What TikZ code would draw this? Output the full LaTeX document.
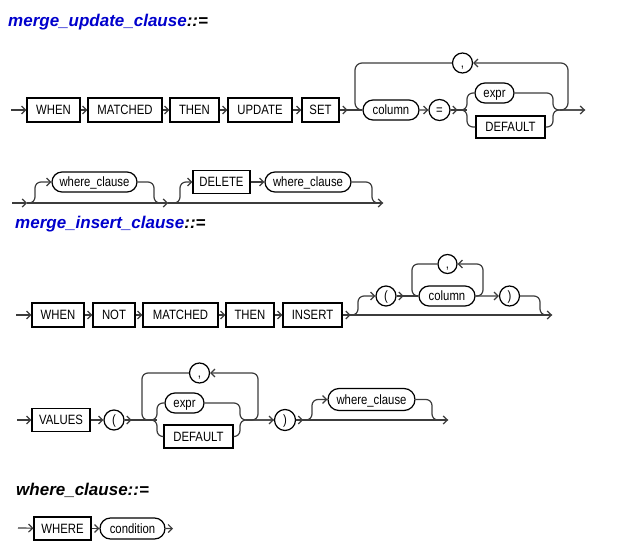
\documentclass[tikz,border=0pt]{standalone}
\usepackage{fontspec}
\setmainfont{Liberation Sans}
\newfontfamily\boxfont{Liberation Sans}[FakeStretch=0.84]
\usetikzlibrary{arrows.meta,shapes.misc,decorations.markings}
\definecolor{ttlblue}{RGB}{0,0,204}
\definecolor{linegray}{RGB}{60,60,60}
\tikzset{
  base/.style={draw=black, line width=1.2pt, inner sep=0pt, anchor=center,
    font=\boxfont\fontsize{13.5}{14}\selectfont, text height=9.7pt, text depth=0pt},
  kw/.style={base, rectangle, minimum height=23pt},
  nt/.style={base, rounded rectangle, minimum height=21pt},
  sym/.style={base, circle, minimum size=21pt},
  conn/.style={draw=linegray, line width=1.2pt},
  arr/.style={conn, -{Straight Barb[length=4pt,width=8pt]}},
  midarr/.style={postaction={decorate, decoration={markings,
      mark=at position #1 with {\arrow{Straight Barb[length=4pt,width=8pt]}}}}},
  ttl/.style={anchor=base west, inner sep=0pt, font=\fontsize{17}{20}\selectfont\bfseries\itshape},
}
\begin{document}
\begin{tikzpicture}[x=1pt,y=-1pt]
\useasboundingbox (0,0) rectangle (620,553);

% ---------- titles
\node[ttl, text=ttlblue] (t1) at (8,27) {merge\_update\_clause\textcolor{black}{::=}};
\node[ttl, text=ttlblue] (t2) at (15,229) {merge\_insert\_clause\textcolor{black}{::=}};
\node[ttl] (t3) at (16,495) {where\_clause::=};

% ---------- row 1
\coordinate (s1) at (11,110);
\node[kw, minimum width=53pt, minimum height=24pt] (when1) at (53.5,110) {WHEN};
\node[kw, minimum width=74pt, minimum height=24pt] (matched1) at (125,110) {MATCHED};
\node[kw, minimum width=49pt, minimum height=24pt] (then1) at (194.5,110) {THEN};
\node[kw, minimum width=64pt, minimum height=24pt] (update1) at (260,110) {UPDATE};
\node[kw, minimum width=37pt, minimum height=24pt] (set1) at (320.5,110) {SET};
\node[nt, minimum width=56pt, minimum height=20pt] (col1) at (391,110) {column};
\node[sym] (eq1) at (439.5,110) {=};
\node[nt, minimum width=39pt, minimum height=20pt] (expr1) at (494.5,93) {expr};
\node[kw, minimum width=69pt, minimum height=22pt] (def1) at (510.5,127) {DEFAULT};
\node[sym, minimum size=20pt] (com1) at (462.5,63) {,};
\coordinate (b1) at (467,110);
\coordinate (m1) at (553,110);
\coordinate (e1) at (585,110);

\draw[arr] (s1) -- (when1);
\draw[arr] (when1) -- (matched1);
\draw[arr] (matched1) -- (then1);
\draw[arr] (then1) -- (update1);
\draw[arr] (update1) -- (set1);
\draw[conn, midarr=8pt] (set1) -- (col1);
\draw[arr] (col1) -- (eq1);
\draw[conn, midarr=7pt] (eq1) -- (b1);
\draw[conn, rounded corners=6] (eq1.east) -- (b1) -- (467,93) -- (expr1.west);
\draw[conn, rounded corners=6] (eq1.east) -- (b1) -- (467,127) -- (def1.west);
\draw[arr, rounded corners=6] (expr1.east) -- (553,93) -- (m1) -- (e1);
\draw[conn, rounded corners=6] (def1.east) -- (553,127) -- (m1) -- (e1);
\draw[arr, rounded corners=7] (560,110) -- (568,110) -- (568,63) -- (com1.east);
\draw[conn, rounded corners=7] (com1.west) -- (355,63) -- (355,110) -- (col1.west);

% ---------- row 2
\coordinate (s2) at (12,203);
\coordinate (j2a) at (27,203);
\coordinate (j2b) at (168,203);
\coordinate (e2) at (383,203);
\node[nt, minimum width=85pt, minimum height=20pt] (wc1) at (94.5,182) {where\_clause};
\node[kw, minimum width=57pt] (del) at (221.5,182) {DELETE};
\node[nt, minimum width=86pt, minimum height=20pt] (wc2) at (308,182) {where\_clause};
\draw[arr] (s2) -- (j2a);
\draw[arr] (j2a) -- (j2b);
\draw[arr] (j2b) -- (e2);
\draw[arr, rounded corners=6] (j2a) -- (35,203) -- (35,182) -- (wc1.west);
\draw[conn, rounded corners=6] (wc1.east) -- (154,182) -- (154,203) -- (j2b);
\draw[arr, rounded corners=6] (j2b) -- (180,203) -- (180,182) -- (del.west);
\draw[arr] (del) -- (wc2);
\draw[conn, rounded corners=6] (wc2.east) -- (372,182) -- (372,203) -- (e2);

% ---------- row 3
\coordinate (s3) at (16,315);
\node[kw, minimum width=52pt, minimum height=24pt] (when3) at (58,315) {WHEN};
\node[kw, minimum width=42pt, minimum height=24pt] (not3) at (114,315) {NOT};
\node[kw, minimum width=75pt, minimum height=24pt] (matched3) at (180.5,315) {MATCHED};
\node[kw, minimum width=48pt, minimum height=24pt] (then3) at (250,315) {THEN};
\node[kw, minimum width=59pt, minimum height=24pt] (ins3) at (312.5,315) {INSERT};
\node[sym, minimum size=20pt] (lp3) at (386,296) {(};
\node[nt, minimum width=56pt, minimum height=20pt] (col3) at (447,296) {column};
\node[sym, minimum size=20pt] (rp3) at (509.5,296) {)};
\node[sym, minimum size=19pt] (com3) at (447.5,264) {,};
\coordinate (j3) at (350,315);
\coordinate (e3) at (552,315);
\draw[arr] (s3) -- (when3);
\draw[arr] (when3) -- (not3);
\draw[arr] (not3) -- (matched3);
\draw[arr] (matched3) -- (then3);
\draw[arr] (then3) -- (ins3);
\draw[arr, midarr=8pt] (ins3) -- (e3);
\draw[arr, rounded corners=6] (j3) -- (358,315) -- (358,296) -- (lp3.west);
\draw[conn, midarr=7pt] (lp3) -- (col3);
\draw[arr] (col3) -- (rp3);
\draw[conn, rounded corners=6] (com3.west) -- (412,264) -- (412,296) -- (col3.west);
\draw[arr, rounded corners=6] (col3.east) -- (483,296) -- (483,264) -- (com3.east);
\draw[conn, rounded corners=6] (rp3.east) -- (540,296) -- (540,315) -- (e3);

% ---------- row 4
\coordinate (s4) at (17,420);
\node[kw, minimum width=58pt] (val4) at (61,420) {VALUES};
\node[sym, minimum size=20pt] (lp4) at (114,420) {(};
\node[nt, minimum width=39pt, minimum height=20pt] (expr4) at (184.5,403) {expr};
\node[kw, minimum width=69pt] (def4) at (198.5,436.5) {DEFAULT};
\node[sym, minimum size=20pt] (com4) at (199.5,373) {,};
\node[sym] (rp4) at (285,420) {)};
\node[nt, minimum width=87pt, minimum height=22pt] (wc3) at (371.5,399.5) {where\_clause};
\coordinate (b4) at (157,420);
\coordinate (m4) at (240,420);
\coordinate (j4) at (303,420);
\coordinate (e4) at (448,420);
\draw[arr] (s4) -- (val4);
\draw[arr] (val4) -- (lp4);
\draw[conn, midarr=7pt] (lp4) -- (b4);
\draw[conn, rounded corners=6] (lp4.east) -- (b4) -- (157,403) -- (expr4.west);
\draw[conn, rounded corners=6] (lp4.east) -- (b4) -- (157,436.5) -- (def4.west);
\draw[arr, rounded corners=6] (expr4.east) -- (240,403) -- (m4) -- (rp4.west);
\draw[conn, rounded corners=6] (def4.east) -- (240,436.5) -- (m4) -- (rp4.west);
\draw[arr, rounded corners=6] (246,420) -- (258,420) -- (258,373) -- (com4.east);
\draw[conn, rounded corners=6] (com4.west) -- (142,373) -- (142,420) -- (150,420);
\draw[arr, midarr=7pt] (rp4) -- (e4);
\draw[arr, rounded corners=6] (j4) -- (312,420) -- (312,399.5) -- (wc3.west);
\draw[conn, rounded corners=6] (wc3.east) -- (432,399.5) -- (432,420) -- (e4);

% ---------- row 5
\coordinate (s5) at (18,528);
\node[kw, minimum width=57pt] (where5) at (62.5,528.5) {WHERE};
\node[nt, minimum width=65pt, minimum height=21pt] (cond5) at (132.5,528.5) {condition};
\coordinate (e5) at (173,528.5);
\draw[arr] (s5) -- (where5);
\draw[arr] (where5) -- (cond5);
\draw[arr] (cond5) -- (e5);
\end{tikzpicture}
\end{document}
